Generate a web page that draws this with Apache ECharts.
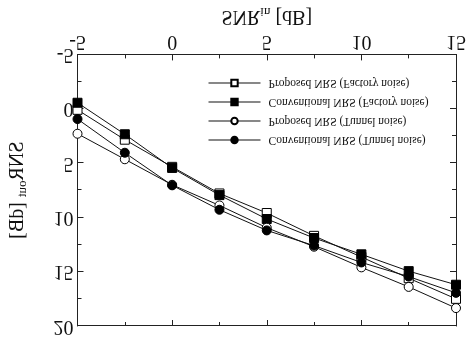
<!DOCTYPE html>
<html>
<head>
<meta charset="utf-8">
<script src="https://cdn.jsdelivr.net/npm/echarts@6/dist/echarts.min.js"></script>
<style>
  html, body { margin: 0; padding: 0; background: #fff; }
  /* the whole figure is shown mirrored top-to-bottom */
  #chart { width: 474px; height: 342px; transform: scaleY(-1); }
</style>
</head>
<body>
<div id="chart"></div>
<script>
// input SNR (dB)
const snrIn = [-5, -2.5, 0, 2.5, 5, 7.5, 10, 12.5, 15];

// output SNR (dB) for each method / noise type
const proposedFactory     = [0.1, 2.85, 5.35, 7.8, 9.6, 11.7, 13.65, 15.6, 17.5];
const conventionalFactory = [-0.55, 2.35, 5.45, 7.95, 10.15, 11.9, 13.4, 14.95, 16.2];
const proposedTunnel      = [2.3, 4.65, 7.0, 8.9, 10.95, 12.7, 14.6, 16.4, 18.35];
const conventionalTunnel  = [0.95, 4.05, 7.05, 9.3, 11.2, 12.6, 14.15, 15.45, 16.95];

const seriesNames = [
  'Proposed NRS (Factory noise)',
  'Conventional NRS (Factory noise)',
  'Proposed NRS (Tunnel noise)',
  'Conventional NRS (Tunnel noise)'
];

const xTicks = { min: -5, max: 15, interval: 5 };
const yTicks = { min: -5, max: 20, interval: 5 };

const FONT = 'Liberation Serif';
const AXIS_COLOR = '#222';

function pairs(values) {
  return snrIn.map((x, i) => [x, values[i]]);
}

function makeSeries(name, values, symbol, filled, size) {
  return {
    name: name,
    type: 'line',
    data: pairs(values),
    symbol: symbol,
    symbolSize: size,
    showAllSymbol: true,
    lineStyle: { color: '#111', width: 1 },
    itemStyle: {
      color: filled ? '#000' : '#fff',
      borderColor: '#000',
      borderWidth: 1
    },
    emphasis: { disabled: true },
    animation: false
  };
}

const tickCommon = {
  axisLine: { show: true, onZero: false, lineStyle: { color: AXIS_COLOR, width: 1 } },
  axisTick: { show: true, inside: true, length: 6, lineStyle: { color: AXIS_COLOR } },
  minorTick: { show: true, splitNumber: 2, length: 4, lineStyle: { color: AXIS_COLOR } },
  splitLine: { show: false }
};

const chart = echarts.init(document.getElementById('chart'), null, { renderer: 'canvas' });

chart.setOption({
  backgroundColor: '#fff',
  animation: false,
  grid: { left: 72, right: 18, top: 16, bottom: 50 },
  legend: {
    orient: 'vertical',
    left: 208,
    top: 196,
    padding: 0,
    itemWidth: 52,
    itemHeight: 8,
    itemGap: 7,
    lineStyle: { width: 1, color: '#111' },
    data: [seriesNames[3], seriesNames[2], seriesNames[1], seriesNames[0]],
    textStyle: { fontFamily: FONT, fontSize: 11.5, color: '#111', padding: [0, 0, 0, 3] },
    selectedMode: false
  },
  xAxis: [
    Object.assign({
      type: 'value',
      position: 'bottom',
      min: xTicks.min, max: xTicks.max, interval: xTicks.interval,
      name: '{a|SNR}{s|in}{a| [dB]}',
      nameLocation: 'middle',
      nameGap: 25,
      nameTextStyle: {
        rich: {
          a: { fontFamily: FONT, fontSize: 20, color: '#111' },
          s: { fontFamily: FONT, fontSize: 13, color: '#111', padding: [10, 0, 0, 0] }
        }
      },
      axisLabel: { fontFamily: FONT, fontSize: 20, color: '#111', margin: 3 }
    }, tickCommon),
    Object.assign({
      type: 'value',
      position: 'top',
      min: xTicks.min, max: xTicks.max, interval: xTicks.interval,
      axisLabel: { show: false }
    }, tickCommon)
  ],
  yAxis: [
    Object.assign({
      type: 'value',
      position: 'left',
      min: yTicks.min, max: yTicks.max, interval: yTicks.interval,
      name: '{a|SNR}{s|out}{a| [dB]}',
      nameLocation: 'middle',
      nameGap: 48,
      nameTextStyle: {
        rich: {
          a: { fontFamily: FONT, fontSize: 20, color: '#111' },
          s: { fontFamily: FONT, fontSize: 13, color: '#111', padding: [10, 0, 0, 0] }
        }
      },
      axisLabel: { fontFamily: FONT, fontSize: 20, color: '#111', margin: 4 }
    }, tickCommon),
    Object.assign({
      type: 'value',
      position: 'right',
      min: yTicks.min, max: yTicks.max, interval: yTicks.interval,
      axisLabel: { show: false }
    }, tickCommon)
  ],
  series: [
    makeSeries(seriesNames[0], proposedFactory, 'rect', false, 9),
    makeSeries(seriesNames[1], conventionalFactory, 'rect', true, 9),
    makeSeries(seriesNames[2], proposedTunnel, 'circle', false, 9),
    makeSeries(seriesNames[3], conventionalTunnel, 'circle', true, 9)
  ]
});
</script>
</body>
</html>
